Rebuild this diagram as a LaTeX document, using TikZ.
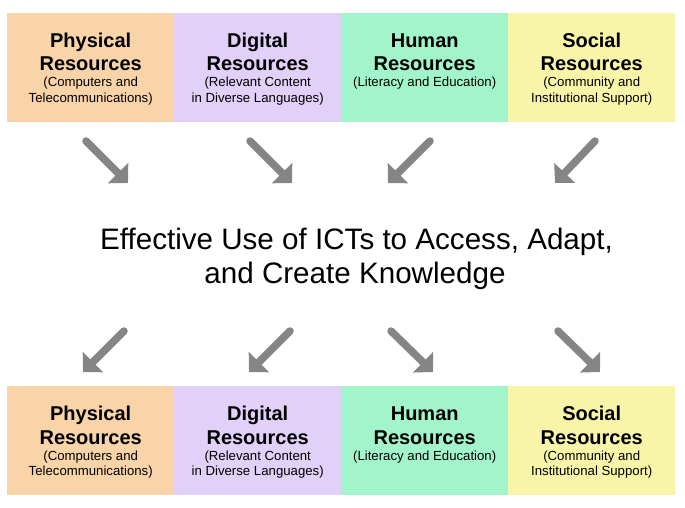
\documentclass[tikz,border=0pt]{standalone}
\usepackage{fontspec}
\setmainfont{Liberation Sans}
\usetikzlibrary{arrows.meta}
\definecolor{cphys}{HTML}{F8D4A8}
\definecolor{cdig}{HTML}{E1D0F8}
\definecolor{chum}{HTML}{A2F5CA}
\definecolor{csoc}{HTML}{F8F5A8}
\definecolor{carrow}{HTML}{858585}
\tikzset{
  resbox/.style={draw=none, inner sep=0pt, minimum width=167pt, minimum height=109pt, anchor=north west},
  boldline/.style={anchor=base, inner sep=0pt, font=\fontsize{20}{23}\selectfont\bfseries},
  subline/.style={anchor=base, inner sep=0pt, font=\fontsize{13.2}{15}\selectfont},
  bigarrow/.style={draw=carrow, line width=7.5pt, line cap=round, -{Triangle[length=14pt,width=28pt]}},
  maintext/.style={anchor=base, inner sep=0pt, font=\fontsize{29.6}{33}\selectfont}
}
% name, left x, top y, colour, line1, line2, sub1, sub2
\newcommand{\resourcebox}[8]{%
  \node[resbox, fill=#4] (#1) at (#2,#3) {};
  \node[boldline] (#1-a) at ([yshift=-34.5pt]#1.north) {#5};
  \node[boldline] (#1-b) at ([yshift=-58pt]#1.north) {#6};
  \node[subline] (#1-c) at ([yshift=-74pt]#1.north) {#7};
  \node[subline] (#1-d) at ([yshift=-89.5pt]#1.north) {#8};
}
\begin{document}
\begin{tikzpicture}[x=1pt,y=-1pt]
\useasboundingbox (0,0) rectangle (685,508);
% top row
\resourcebox{tp}{7}{13}{cphys}{Physical}{Resources}{(Computers and}{Telecommunications)}
\resourcebox{td}{174}{13}{cdig}{Digital}{Resources}{(Relevant Content}{in Diverse Languages)}
\resourcebox{th}{341}{13}{chum}{Human}{Resources}{(Literacy and Education)}{}
\resourcebox{ts}{508}{13}{csoc}{Social}{Resources}{(Community and}{Institutional Support)}
% bottom row
\resourcebox{bp}{7}{386}{cphys}{Physical}{Resources}{(Computers and}{Telecommunications)}
\resourcebox{bd}{174}{386}{cdig}{Digital}{Resources}{(Relevant Content}{in Diverse Languages)}
\resourcebox{bh}{341}{386}{chum}{Human}{Resources}{(Literacy and Education)}{}
\resourcebox{bs}{508}{386}{csoc}{Social}{Resources}{(Community and}{Institutional Support)}
% central text
\node[maintext] (m1) at (356.5,249) {Effective Use of ICTs to Access, Adapt,};
\node[maintext] (m2) at (355,283) {and Create Knowledge};
% arrow coordinates
\coordinate (a1s) at (86,141); \coordinate (a1e) at (128,183);
\coordinate (a2s) at (250,141); \coordinate (a2e) at (292,183);
\coordinate (a3s) at (430,141); \coordinate (a3e) at (388,183);
\coordinate (a4s) at (595,141); \coordinate (a4e) at (555,183);
\coordinate (b1s) at (124,331); \coordinate (b1e) at (83,372);
\coordinate (b2s) at (290,331); \coordinate (b2e) at (249,372);
\coordinate (b3s) at (391,331); \coordinate (b3e) at (433,372);
\coordinate (b4s) at (558,331); \coordinate (b4e) at (600,372);
\foreach \s/\e in {a1s/a1e,a2s/a2e,a3s/a3e,a4s/a4e,b1s/b1e,b2s/b2e,b3s/b3e,b4s/b4e}
  \draw[bigarrow] (\s) -- (\e);
\end{tikzpicture}
\end{document}
